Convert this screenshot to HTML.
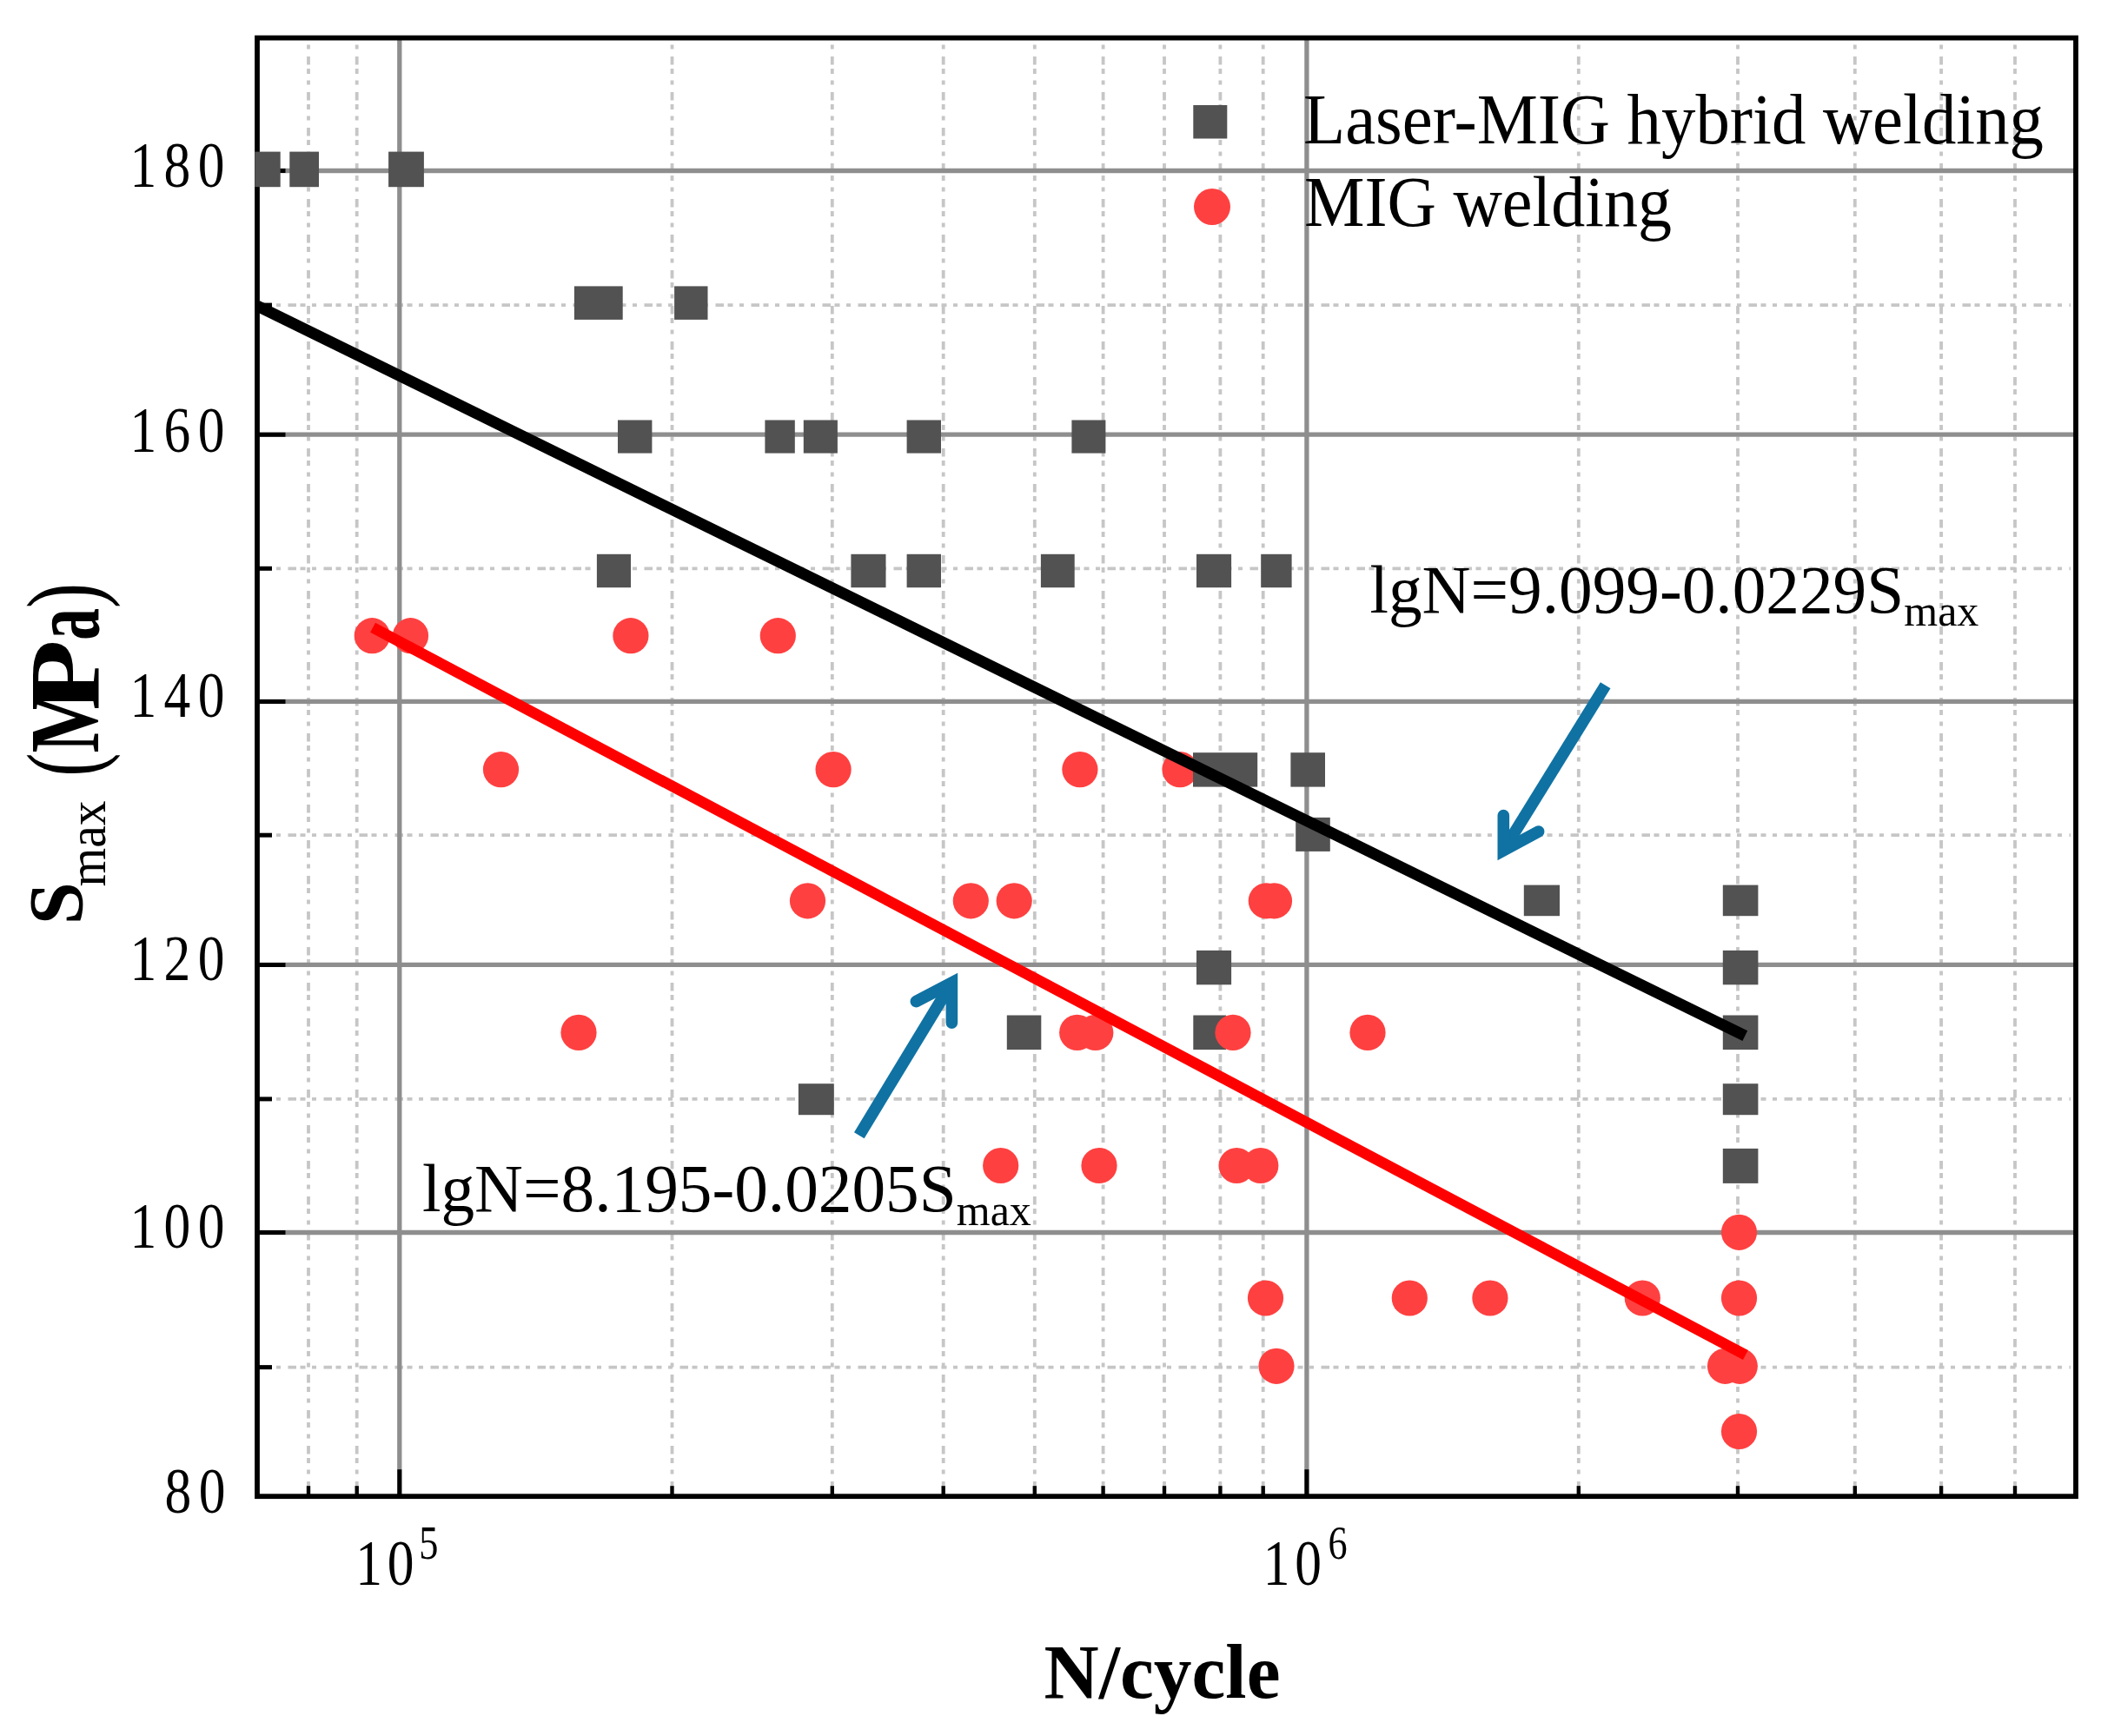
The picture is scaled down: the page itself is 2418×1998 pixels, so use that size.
<!DOCTYPE html>
<html lang="en"><head><meta charset="utf-8"><title>S-N curve</title>
<style>
html,body{margin:0;padding:0;background:#fff;}
body{width:2418px;height:1998px;overflow:hidden;}
svg{display:block;}
text{font-family:"Liberation Serif","Times New Roman",serif;fill:#000;}
.mn{stroke:#c6c6c6;stroke-width:3.8;stroke-dasharray:5 8.5 9.5 4.5 6 7.5;fill:none;}
.mj{stroke:#8e8e8e;stroke-width:5.3;fill:none;}
.sq{fill:#525252;}
.ci{fill:#ff4040;}
.tk{stroke:#000;stroke-width:5;fill:none;}
.ar{stroke:#0f72a3;stroke-width:13.6;fill:none;}
</style></head><body>
<svg width="2418" height="1998" viewBox="0 0 2418 1998">
<rect x="0" y="0" width="2418" height="1998" fill="#ffffff"/>
<defs><clipPath id="pc"><rect x="293.2" y="43.6" width="2098.6" height="1678.6000000000001"/></clipPath></defs>

<g class="mn">
<line x1="355" y1="51.6" x2="355" y2="1712.2"/>
<line x1="410.7" y1="51.6" x2="410.7" y2="1712.2"/>
<line x1="773.5" y1="51.6" x2="773.5" y2="1712.2"/>
<line x1="957.8" y1="51.6" x2="957.8" y2="1712.2"/>
<line x1="1085.7" y1="51.6" x2="1085.7" y2="1712.2"/>
<line x1="1190.8" y1="51.6" x2="1190.8" y2="1712.2"/>
<line x1="1269.6" y1="51.6" x2="1269.6" y2="1712.2"/>
<line x1="1340" y1="51.6" x2="1340" y2="1712.2"/>
<line x1="1404.4" y1="51.6" x2="1404.4" y2="1712.2"/>
<line x1="1453.7" y1="51.6" x2="1453.7" y2="1712.2"/>
<line x1="1816.8" y1="51.6" x2="1816.8" y2="1712.2"/>
<line x1="2000" y1="51.6" x2="2000" y2="1712.2"/>
<line x1="2134.8" y1="51.6" x2="2134.8" y2="1712.2"/>
<line x1="2234.1" y1="51.6" x2="2234.1" y2="1712.2"/>
<line x1="2319" y1="51.6" x2="2319" y2="1712.2"/>
<line x1="318.0" y1="351.1" x2="2383.0" y2="351.1"/>
<line x1="318.0" y1="654.3" x2="2383.0" y2="654.3"/>
<line x1="318.0" y1="961.2" x2="2383.0" y2="961.2"/>
<line x1="318.0" y1="1264.9" x2="2383.0" y2="1264.9"/>
<line x1="318.0" y1="1573.6" x2="2383.0" y2="1573.6"/>
</g>
<g class="mj">
<line x1="459.8" y1="43.6" x2="459.8" y2="1722.2"/>
<line x1="1503.9" y1="43.6" x2="1503.9" y2="1722.2"/>
<line x1="296.0" y1="196.5" x2="2389.0" y2="196.5"/>
<line x1="296.0" y1="500.2" x2="2389.0" y2="500.2"/>
<line x1="296.0" y1="807.4" x2="2389.0" y2="807.4"/>
<line x1="296.0" y1="1110.4" x2="2389.0" y2="1110.4"/>
<line x1="296.0" y1="1418.5" x2="2389.0" y2="1418.5"/>
</g>
<g class="tk">
<line x1="296.0" y1="196.5" x2="328.5" y2="196.5"/>
<line x1="296.0" y1="500.2" x2="328.5" y2="500.2"/>
<line x1="296.0" y1="807.4" x2="328.5" y2="807.4"/>
<line x1="296.0" y1="1110.4" x2="328.5" y2="1110.4"/>
<line x1="296.0" y1="1418.5" x2="328.5" y2="1418.5"/>
<line x1="296.0" y1="351.1" x2="313.0" y2="351.1"/>
<line x1="296.0" y1="654.3" x2="313.0" y2="654.3"/>
<line x1="296.0" y1="961.2" x2="313.0" y2="961.2"/>
<line x1="296.0" y1="1264.9" x2="313.0" y2="1264.9"/>
<line x1="296.0" y1="1573.6" x2="313.0" y2="1573.6"/>
<line x1="459.8" y1="1722.2" x2="459.8" y2="1691.2"/>
<line x1="1503.9" y1="1722.2" x2="1503.9" y2="1691.2"/>
<line x1="355" y1="1722.2" x2="355" y2="1710.2" stroke-width="4.4"/>
<line x1="410.7" y1="1722.2" x2="410.7" y2="1710.2" stroke-width="4.4"/>
<line x1="773.5" y1="1722.2" x2="773.5" y2="1710.2" stroke-width="4.4"/>
<line x1="957.8" y1="1722.2" x2="957.8" y2="1710.2" stroke-width="4.4"/>
<line x1="1085.7" y1="1722.2" x2="1085.7" y2="1710.2" stroke-width="4.4"/>
<line x1="1190.8" y1="1722.2" x2="1190.8" y2="1710.2" stroke-width="4.4"/>
<line x1="1269.6" y1="1722.2" x2="1269.6" y2="1710.2" stroke-width="4.4"/>
<line x1="1340" y1="1722.2" x2="1340" y2="1710.2" stroke-width="4.4"/>
<line x1="1404.4" y1="1722.2" x2="1404.4" y2="1710.2" stroke-width="4.4"/>
<line x1="1453.7" y1="1722.2" x2="1453.7" y2="1710.2" stroke-width="4.4"/>
<line x1="1816.8" y1="1722.2" x2="1816.8" y2="1710.2" stroke-width="4.4"/>
<line x1="2000" y1="1722.2" x2="2000" y2="1710.2" stroke-width="4.4"/>
<line x1="2134.8" y1="1722.2" x2="2134.8" y2="1710.2" stroke-width="4.4"/>
<line x1="2234.1" y1="1722.2" x2="2234.1" y2="1710.2" stroke-width="4.4"/>
<line x1="2319" y1="1722.2" x2="2319" y2="1710.2" stroke-width="4.4"/>
</g>
<rect x="296.0" y="43.6" width="2093.0" height="1678.6000000000001" fill="none" stroke="#000" stroke-width="5.8"/>
<g clip-path="url(#pc)">
<circle class="ci" cx="1358" cy="885.6" r="20.6"/>
<rect class="sq" x="290.0" y="174.6" width="32.7" height="40.6"/>
<rect class="sq" x="333.3" y="174.6" width="33.7" height="40.6"/>
<rect class="sq" x="447.1" y="174.6" width="40.8" height="40.6"/>
<rect class="sq" x="660.9" y="329.4" width="55.8" height="38.5"/>
<rect class="sq" x="776.1" y="329.4" width="38.4" height="38.5"/>
<rect class="sq" x="711.0" y="483.5" width="39.4" height="38.1"/>
<rect class="sq" x="880.4" y="483.5" width="34.4" height="38.1"/>
<rect class="sq" x="924.8" y="483.5" width="39.1" height="38.1"/>
<rect class="sq" x="1043.6" y="483.5" width="39.4" height="38.1"/>
<rect class="sq" x="1233.4" y="483.5" width="39.0" height="38.1"/>
<rect class="sq" x="686.9" y="637.8" width="39.1" height="38.4"/>
<rect class="sq" x="979.4" y="637.8" width="40.1" height="38.4"/>
<rect class="sq" x="1043.6" y="637.8" width="39.4" height="38.4"/>
<rect class="sq" x="1197.9" y="637.8" width="38.8" height="38.4"/>
<rect class="sq" x="1377.0" y="637.8" width="40.1" height="38.4"/>
<rect class="sq" x="1451.2" y="637.8" width="35.4" height="38.4"/>
<rect class="sq" x="1373.0" y="866.2" width="74.2" height="39.4"/>
<rect class="sq" x="1485.4" y="866.2" width="39.6" height="39.4"/>
<rect class="sq" x="1491.2" y="940.9" width="39.6" height="39.0"/>
<rect class="sq" x="1753.8" y="1018.6" width="41.2" height="35.6"/>
<rect class="sq" x="1982.8" y="1018.6" width="40.6" height="35.6"/>
<rect class="sq" x="1377.0" y="1093.9" width="40.1" height="39.4"/>
<rect class="sq" x="1982.8" y="1093.9" width="40.6" height="39.4"/>
<rect class="sq" x="1158.8" y="1168.5" width="39.5" height="39.6"/>
<rect class="sq" x="1373.3" y="1168.5" width="37.7" height="39.6"/>
<rect class="sq" x="1982.8" y="1168.5" width="40.6" height="39.6"/>
<rect class="sq" x="918.9" y="1247.2" width="40.9" height="36.0"/>
<rect class="sq" x="1982.8" y="1247.2" width="40.6" height="36.0"/>
<rect class="sq" x="1982.8" y="1321.9" width="40.6" height="40.0"/>
<circle class="ci" cx="428.3" cy="731.7" r="20.6"/>
<circle class="ci" cx="472.5" cy="731.7" r="20.6"/>
<circle class="ci" cx="725.9" cy="731.7" r="20.6"/>
<circle class="ci" cx="895.3" cy="731.7" r="20.6"/>
<circle class="ci" cx="576.5" cy="885.6" r="20.6"/>
<circle class="ci" cx="959.1" cy="885.6" r="20.6"/>
<circle class="ci" cx="1242.9" cy="885.6" r="20.6"/>
<circle class="ci" cx="929.5" cy="1036.8" r="20.6"/>
<circle class="ci" cx="1117.3" cy="1036.8" r="20.6"/>
<circle class="ci" cx="1167.2" cy="1036.8" r="20.6"/>
<circle class="ci" cx="1457.3" cy="1036.8" r="20.6"/>
<circle class="ci" cx="1466.5" cy="1036.8" r="20.6"/>
<circle class="ci" cx="666" cy="1188.4" r="20.6"/>
<circle class="ci" cx="1239.7" cy="1188.4" r="20.6"/>
<circle class="ci" cx="1260.8" cy="1188.4" r="20.6"/>
<circle class="ci" cx="1419" cy="1188.4" r="20.6"/>
<circle class="ci" cx="1574" cy="1188.4" r="20.6"/>
<circle class="ci" cx="1151.7" cy="1341.5" r="20.6"/>
<circle class="ci" cx="1265" cy="1341.5" r="20.6"/>
<circle class="ci" cx="1423.2" cy="1341.5" r="20.6"/>
<circle class="ci" cx="1450.8" cy="1341.5" r="20.6"/>
<circle class="ci" cx="2001.5" cy="1418.3" r="20.6"/>
<circle class="ci" cx="1456.5" cy="1494.0" r="20.6"/>
<circle class="ci" cx="1622.3" cy="1494.0" r="20.6"/>
<circle class="ci" cx="1714.9" cy="1494.0" r="20.6"/>
<circle class="ci" cx="1890.3" cy="1494.0" r="20.6"/>
<circle class="ci" cx="2001.5" cy="1494.0" r="20.6"/>
<circle class="ci" cx="1469" cy="1572.3" r="20.6"/>
<circle class="ci" cx="1985.5" cy="1572.3" r="20.6"/>
<circle class="ci" cx="2002.3" cy="1572.3" r="20.6"/>
<circle class="ci" cx="2001.5" cy="1647.5" r="20.6"/>
<line x1="296.2" y1="352.2" x2="2008.3" y2="1192.2" stroke="#000" stroke-width="13"/>
<line x1="429.1" y1="722.3" x2="2008.9" y2="1559.5" stroke="#ff0000" stroke-width="12.6"/>
</g>
<rect class="sq" x="1373.3" y="121" width="39" height="38.5"/>
<circle class="ci" cx="1395" cy="238" r="21"/>
<text transform="translate(149.4,214.8) scale(0.82,1)" font-size="75" letter-spacing="10.30">180</text>
<text transform="translate(149.4,520.3) scale(0.82,1)" font-size="75" letter-spacing="10.30">160</text>
<text transform="translate(149.4,825) scale(0.82,1)" font-size="75" letter-spacing="10.30">140</text>
<text transform="translate(149.4,1127.5) scale(0.82,1)" font-size="75" letter-spacing="10.30">120</text>
<text transform="translate(149.4,1436.1) scale(0.82,1)" font-size="75" letter-spacing="10.30">100</text>
<text transform="translate(189.5,1741.3) scale(0.82,1)" font-size="75" letter-spacing="10.30">80</text>
<text transform="translate(409.3,1823.8) scale(0.82,1)" font-size="75" letter-spacing="7.01">10<tspan font-size="54" dy="-29.5" letter-spacing="0" dx="0">5</tspan></text>
<text transform="translate(1453.8,1823.8) scale(0.82,1)" font-size="75" letter-spacing="7.01">10<tspan font-size="54" dy="-29.5" letter-spacing="0" dx="2">6</tspan></text>
<text x="1337.5" y="1953.5" font-size="89" font-weight="bold" text-anchor="middle" textLength="272" lengthAdjust="spacingAndGlyphs">N/cycle</text>
<text transform="translate(94.2,1064.3) rotate(-90)" font-size="88" font-weight="bold">S<tspan font-size="61" font-weight="normal" dy="26.7" dx="-5.2" textLength="99" lengthAdjust="spacingAndGlyphs">max</tspan></text>
<text transform="translate(112.8,893.5) rotate(-90)" font-size="115" font-weight="bold"><tspan font-weight="normal" font-size="119" textLength="27" lengthAdjust="spacingAndGlyphs">(</tspan><tspan textLength="83" lengthAdjust="spacingAndGlyphs">M</tspan><tspan dx="-34.7" textLength="82" lengthAdjust="spacingAndGlyphs">P</tspan><tspan dx="-0.8" textLength="37" lengthAdjust="spacingAndGlyphs">a</tspan><tspan dx="0" font-weight="normal" font-size="119" textLength="29" lengthAdjust="spacingAndGlyphs">)</tspan></text>
<text x="1500" y="165" font-size="82" textLength="852" lengthAdjust="spacingAndGlyphs">Laser-MIG hybrid welding</text>
<text x="1501" y="260" font-size="82" textLength="423" lengthAdjust="spacingAndGlyphs">MIG welding</text>
<text x="1576.5" y="704.5" font-size="77.3">lgN=9.099-0.0229S<tspan font-size="50" dy="15.3" dx="0">max</tspan></text>
<text x="486" y="1394.2" font-size="77.3">lgN=8.195-0.0205S<tspan font-size="50" dy="15.3" dx="0">max</tspan></text>
<g class="ar">
<line x1="1847.7" y1="788.8" x2="1730.3" y2="978.8"/>
<polyline points="1730.3,938.5 1730.3,978.8 1770.7,957" stroke-linecap="round" stroke-linejoin="miter" stroke-miterlimit="10"/>
<line x1="988.8" y1="1306.7" x2="1095.4" y2="1131.1"/>
<polyline points="1095.4,1177.1 1095.4,1131.1 1054.3,1152.6" stroke-linecap="round" stroke-linejoin="miter" stroke-miterlimit="10"/>
</g>
</svg></body></html>
